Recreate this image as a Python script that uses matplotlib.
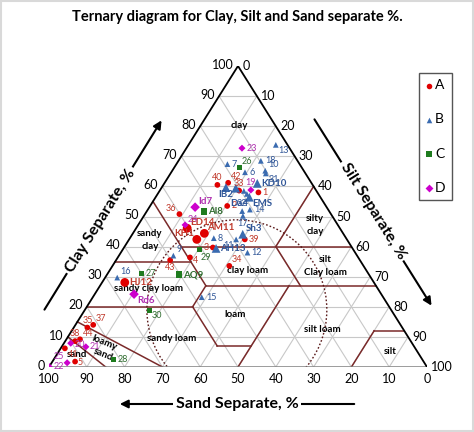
import numpy as np
import matplotlib.pyplot as plt
from matplotlib.patches import Ellipse, Polygon

plt.rcParams['font.family'] = ['Lato', 'DejaVu Sans']

# samples: clay % and silt % (sand = 100 - clay - silt)
a_labels = ['1', '2', '3', '4', '5', '33', '34', '35', '36', '37', '38', '39', '40',
            '41', '42', '43', '44', 'ED14', 'AM11', 'KH1', 'HJ12']
a_clay = [58.0, 53.5, 39.7, 36.4, 1.8, 58.6, 33.6, 13.1, 50.8, 14.0, 8.6, 42.4, 60.5,
          6.2, 61.2, 35.5, 9.2, 46.1, 44.4, 42.4, 28.1]
a_silt = [26.4, 20.4, 23.5, 19.1, 6.0, 21.0, 30.9, 3.6, 9.1, 4.7, 2.6, 30.6, 14.3,
          1.1, 16.8, 14.3, 3.6, 13.5, 18.9, 17.9, 6.0]

b_labels = ['6', '7', '8', '9', '10', '11', '12', '13', '14', '15', '16', '17', '18',
            '31', '32', 'IB2', 'Da4', 'KD10', 'EMS', '', '', 'Sh3', 'AH13']
b_clay = [64.7, 67.4, 42.8, 37.0, 65.2, 42.4, 38.0, 73.8, 52.3, 23.2, 29.7, 50.2, 68.5,
          64.3, 51.8, 59.6, 59.4, 61.0, 56.4, 58.5, 57.5, 44.1, 39.4]
b_silt = [19.5, 13.5, 22.2, 14.4, 24.6, 28.3, 33.5, 23.1, 27.0, 28.8, 3.2, 26.2, 21.8,
          25.2, 25.2, 17.0, 19.7, 24.6, 24.8, 22.3, 23.6, 29.2, 24.5]

c_labels = ['26', '27', '28', '29', '30', 'Al8', 'AQ9']
c_clay = [66.2, 31.1, 2.6, 38.9, 18.9, 51.6, 30.6]
c_silt = [17.2, 9.0, 15.7, 20.3, 17.1, 15.2, 19.1]

d_labels = ['19', '20', '21', '22', '23', '24', '25', 'Id7', 'Rd6']
d_clay = [58.8, 7.9, 6.7, 0.1, 72.7, 47.2, 1.4, 53.1, 24.2]
d_silt = [24.0, 1.8, 6.4, 0.0, 14.7, 12.4, 4.1, 12.1, 10.4]

# USDA texture class boundaries, (clay, silt) end points
bounds = [((55, 0), (27, 28)), ((40, 15), (40, 60)), ((60, 40), (40, 40)),
          ((40, 40), (27, 53)), ((35, 0), (35, 20)), ((27, 28), (27, 73)),
          ((20, 0), (20, 28)), ((20, 28), (27, 28)), ((20, 28), (7, 41)),
          ((7, 41), (7, 50)), ((27, 50), (0, 50)), ((12, 80), (12, 88)),
          ((12, 80), (0, 80)), ((15, 0), (0, 30)), ((10, 0), (0, 15))]

# class names (text, clay, silt, rotation)
classes = [('clay', 80.1, 10.2, 0), ('sandy\nclay', 42.2, 5.6, 0),
           ('silty\nclay', 47.2, 46.8, 0), ('clay loam', 31.9, 36.7, 0),
           ('silt\nClay loam', 33.6, 56.2, 0), ('sandy clay loam', 26.2, 13.1, 0),
           ('loam', 17.3, 40.5, 0), ('silt loam', 12.6, 65.9, 0),
           ('sandy loam', 9.6, 27.7, 0), ('silt', 5.0, 87.7, 0),
           ('loamy', 8.0, 10.6, -22), ('sand', 4.0, 12.3, -22), ('sand', 4.0, 5.4, 0)]

ticks = [0, 10, 20, 30, 40, 50, 60, 70, 80, 90, 100]


def tern(clay, silt):
    clay = np.asarray(clay, float)
    silt = np.asarray(silt, float)
    return silt + clay / 2.0, clay


# where each label sits relative to its marker
offs = {'r': (3, 0, 'left', 'center'), 'l': (-3, 0, 'right', 'center'),
        'a': (0, 2, 'center', 'bottom'), 'b': (0, -2, 'center', 'top'),
        'ar': (2, 1, 'left', 'bottom'), 'al': (-2, 1, 'right', 'bottom'),
        'br': (2, -1, 'left', 'top'), 'bl': (-2, -1, 'right', 'top')}
place = {
    'A': {'3': 'l', '33': 'a', '34': 'ar', '35': 'a', '36': 'al', '37': 'ar', '38': 'a',
          '40': 'a', '41': 'br', '42': 'ar', '43': 'b', '44': 'ar', 'ED14': 'ar',
          'AM11': 'ar', 'KH1': 'al', '5': (2, -1, 'left', 'center'),
          '4': (2, -2, 'left', 'center')},
    'B': {'9': 'ar', '10': 'ar', '11': 'bl', '13': 'br', '16': 'ar', '17': 'b',
          '31': 'br', '32': 'a', 'IB2': (0, -2, 'center', 'top'),
          'Da4': (-4, -8, 'left', 'top'), 'EMS': 'br', 'Sh3': 'ar'},
    'C': {'26': 'ar', '29': (1, -2, 'left', 'top'), '30': 'br'},
    'D': {'19': 'a', '24': 'ar', '25': 'al', 'Id7': 'ar', 'Rd6': 'br',
          '20': (3, -1, 'left', 'center')},
}

W, H = 474, 432
fig = plt.figure(figsize=(W / 100, H / 100), dpi=100)
ax = fig.add_axes([49 / W, 1 - 367 / H, 378 / W, 301 / H])
ax.set_xlim(0, 100)
ax.set_ylim(0, 100)
ax.axis('off')

# grid
for k in ticks[1:-1]:
    for p, q in [((k, 0), (k, 100 - k)), ((0, k), (100 - k, k)), ((0, 100 - k), (100 - k, 0))]:
        x, y = tern([p[0], q[0]], [p[1], q[1]])
        ax.plot(x, y, color='#c8c8c8', lw=0.8, zorder=1)

# outline
x, y = tern([100, 0, 0], [0, 0, 100])
ax.plot(x[:2], y[:2], color='black', lw=1.3, zorder=3)
ax.plot(x[1:], y[1:], color='#7f7f7f', lw=1.8, zorder=3)
x, y = tern([100, 0], [0, 100])
ax.plot(x, y, color='black', lw=1.3, zorder=3)

for p, q in bounds:
    x, y = tern([p[0], q[0]], [p[1], q[1]])
    ax.plot(x, y, color='#7a2a2a', lw=1.1, zorder=2)

tri = Polygon(np.column_stack(tern([0, 0, 100], [0, 100, 0])), closed=True,
              transform=ax.transData, fill=False, lw=0)
ax.add_patch(tri)
cx, cy = tern(19, 40.2)
circ = Ellipse((cx, cy), 47.6, 59.8, fill=False, ls=(0, (1.2, 1.5)), lw=1.0,
               color='#5a1a1a', zorder=2)
ax.add_patch(circ)
circ.set_clip_path(tri)

for name, cl, si, rot in classes:
    x, y = tern(cl, si)
    ax.text(x, y, name, ha='center', va='center', fontsize=7, fontweight='bold',
            rotation=rot, linespacing=1.5, zorder=4)

# tick labels
for v in ticks:
    x, y = tern(v, 0)
    ax.annotate(str(v), (x, y), xytext=(-3, 1), textcoords='offset points',
                ha='right', va='center', fontsize=9)
    x, y = tern(100 - v, v)
    ax.annotate(str(v), (x, y), xytext=(3, 0), textcoords='offset points',
                ha='left', va='center', fontsize=9)
    x, y = tern(0, 100 - v)
    ax.annotate(str(v), (x, y), xytext=(0, -4), textcoords='offset points',
                ha='center', va='top', fontsize=9)

series = [('A', a_labels, a_clay, a_silt, 'o', '#e00000', '#c0392b'),
          ('B', b_labels, b_clay, b_silt, '^', '#3a6bb0', '#2f5597'),
          ('C', c_labels, c_clay, c_silt, 's', '#1e7b1e', '#2e6b2e'),
          ('D', d_labels, d_clay, d_silt, 'D', '#cc00cc', '#b030b0')]
handles = []
for key, labs, cl, si, mk, col, tcol in series:
    x, y = tern(cl, si)
    big = np.array([len(l) > 2 and not l.isdigit() for l in labs])
    if key in ('C', 'D'):
        sizes = np.where(big, 24, 13)
    else:
        sizes = np.where(big, 40, 17)
    ax.scatter(x, y, s=sizes, marker=mk, color=col, zorder=5, linewidths=0)
    handles.append(ax.scatter([], [], s=16, marker=mk, color=col, linewidths=0, label=key))
    for lab, xi, yi, b in zip(labs, x, y, big):
        if not lab:
            continue
        pos = place[key].get(lab, 'r')
        dx, dy, ha, va = offs[pos] if isinstance(pos, str) else pos
        ax.annotate(lab, (xi, yi), xytext=(dx, dy), textcoords='offset points',
                    ha=ha, va=va, fontsize=7 if b else 6.5,
                    fontweight='bold' if b else 'normal', color=tcol, zorder=6)

leg = fig.legend(handles=handles, loc='upper left', bbox_to_anchor=(419 / W, 1 - 73 / H),
                 fontsize=10, labelspacing=1.6, handlelength=0.5, handletextpad=0.2,
                 borderpad=0.45, borderaxespad=0, fancybox=False, edgecolor='#555555',
                 framealpha=1)
leg.get_frame().set_linewidth(1.0)


def fp(px, py):
    return px / W, 1 - py / H


fig.text(*fp(237, 17), 'Ternary diagram for Clay, Silt and Sand separate %.',
         ha='center', va='center', fontsize=10.5, fontweight='bold')

arrow = dict(arrowstyle='-|>', lw=1.5, color='black', mutation_scale=12)
for tail, head in [((43, 312), (163, 118)), ((313, 117), (433, 308)), ((357, 404), (117, 404))]:
    ax.annotate('', xy=fp(*head), xytext=fp(*tail), xycoords='figure fraction',
                textcoords='figure fraction', arrowprops=arrow, annotation_clip=False)

box = dict(facecolor='white', edgecolor='none', pad=2)
fig.text(*fp(101, 221), 'Clay Separate, %', rotation=58, ha='center', va='center',
         fontsize=11.5, fontweight='bold', bbox=box, rotation_mode='anchor')
fig.text(*fp(373, 211), 'Silt Separate, %', rotation=-58, ha='center', va='center',
         fontsize=11.5, fontweight='bold', bbox=box, rotation_mode='anchor')
fig.text(*fp(237, 404), 'Sand Separate, %', ha='center', va='center',
         fontsize=11.5, fontweight='bold', bbox=box)

fig.patches.append(plt.Rectangle((0.002, 0.002), 0.996, 0.996, transform=fig.transFigure,
                                 fill=False, edgecolor='#d9d9d9', lw=1.5))

fig.savefig('out.png', dpi=100)
